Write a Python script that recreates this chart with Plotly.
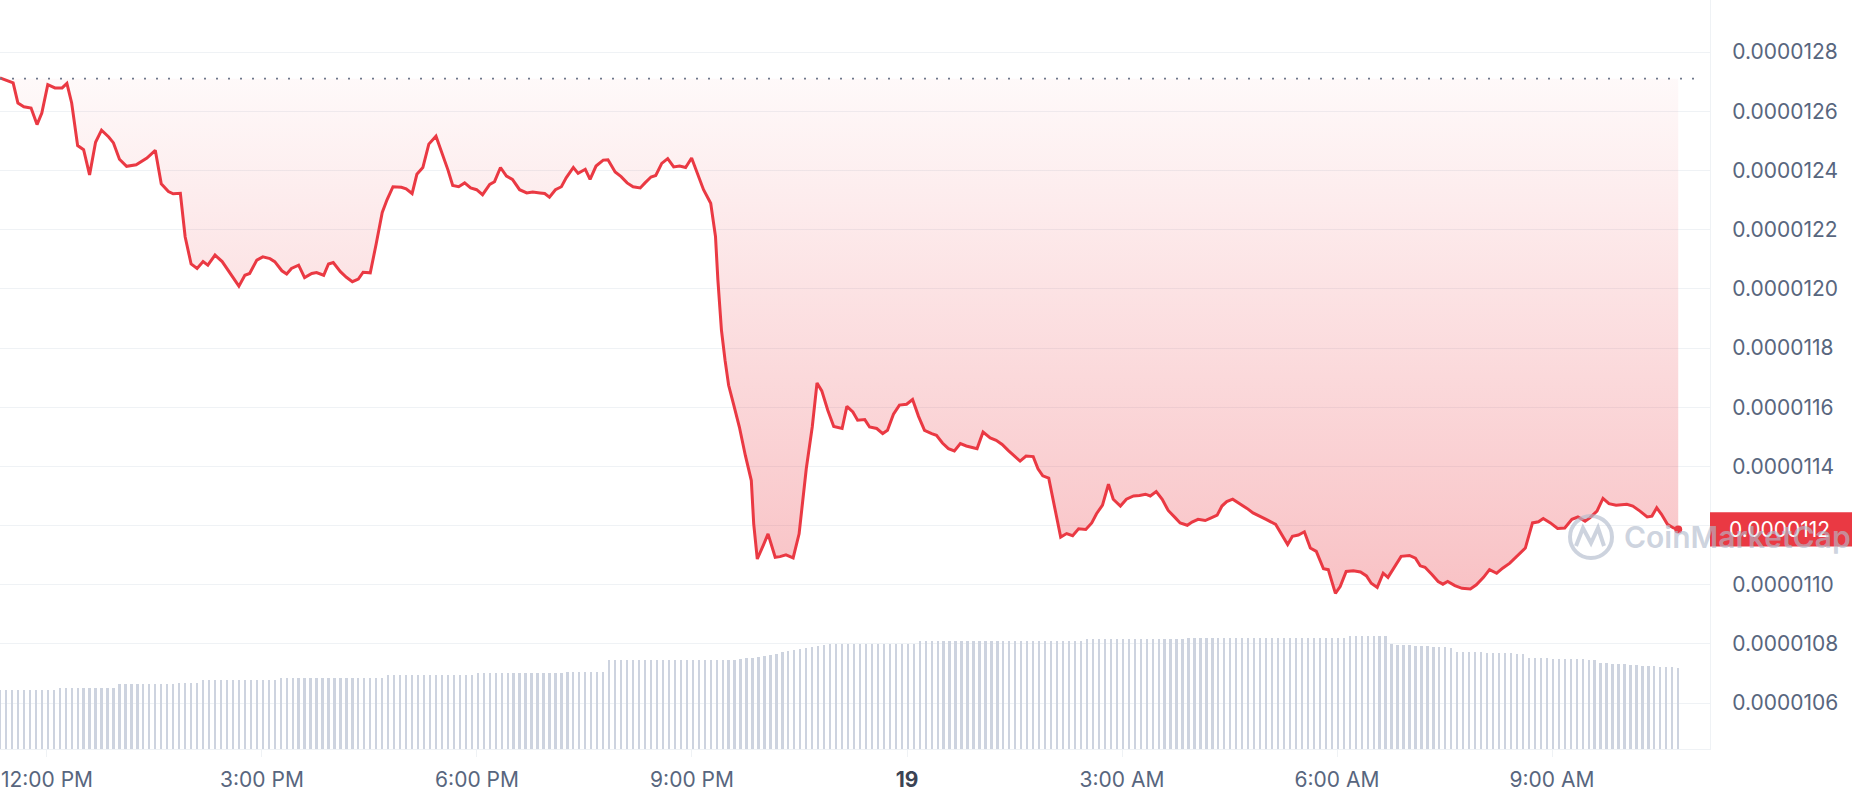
import numpy as np
import pandas as pd
import plotly.graph_objects as go

# ---------------- data ----------------
start_time = pd.Timestamp("2024-06-18 11:20:40")
view_minutes = 1431.6          # visible time span of the x axis

# price samples: minutes after start_time, price in units of 1e-7 USD
price_minutes = [
    0, 11, 15, 20, 26, 31, 35, 40, 46, 52, 56, 60, 65, 70, 75, 80, 85, 91, 95, 100,
    106, 114, 123, 130, 135, 141, 145, 151, 155, 160, 165, 170, 174, 180, 186, 193, 200, 205, 209, 215,
    220, 226, 230, 236, 240, 244, 250, 255, 261, 265, 271, 275, 279, 285,
    290, 295, 300, 304, 310, 315, 320, 324, 329, 336, 340, 345, 349, 354, 359, 365, 370, 375, 379, 384,
    389, 394, 399, 404, 410, 414, 419, 424, 429, 435, 441, 446, 452, 456, 460, 465, 470, 474, 480, 484,
    490, 494, 499, 505, 509, 515, 520, 525, 530, 536, 540, 545, 549, 554, 559, 564, 569, 574, 579, 584,
    589, 595, 599, 601, 604, 607, 610, 614, 619, 624, 629, 631, 634, 639, 643, 649, 653, 658, 664, 669,
    675, 680, 684, 688, 693, 698, 705, 709, 714, 718, 724, 728, 734, 739, 743, 748, 753, 759, 764, 769,
    774, 780, 784, 789, 794, 799, 804, 809, 814, 818, 823, 829, 834, 839, 844, 849, 854, 859, 865, 869,
    873, 878, 883, 888, 893, 898, 903, 909, 914, 918, 923, 928, 932, 938, 943, 949, 954, 959, 963, 968,
    973, 978, 984, 988, 994, 998, 1003, 1009, 1014, 1019, 1023, 1027, 1032, 1038, 1044, 1049, 1055, 1060, 1068, 1073,
    1078, 1082, 1087, 1092, 1097, 1102, 1108, 1112, 1118, 1122, 1127, 1133, 1139, 1144, 1148, 1153,
    1158, 1162, 1168, 1173, 1180, 1185, 1189, 1193, 1199, 1204, 1208, 1212, 1218, 1224, 1231, 1236, 1242, 1247, 1253, 1258,
    1264, 1270, 1277, 1283, 1288, 1292, 1298, 1304, 1310, 1316, 1321, 1327, 1331, 1337, 1342, 1347, 1353, 1362, 1367, 1373,
    1379, 1383, 1387, 1391, 1396, 1401, 1405,
]
price_e7 = [
    127.13, 126.96, 126.28, 126.15, 126.11, 125.55, 125.94, 126.90, 126.79, 126.79, 126.94, 126.28, 124.84, 124.70, 123.85, 124.95, 125.36, 125.13, 124.93, 124.38,
    124.14, 124.19, 124.42, 124.68, 123.55, 123.29, 123.21, 123.23, 121.76, 120.84, 120.69, 120.92, 120.80, 121.14, 120.92, 120.52, 120.09, 120.46, 120.52, 120.97,
    121.08, 121.02, 120.92, 120.61, 120.50, 120.69, 120.80, 120.38, 120.52, 120.55, 120.46, 120.84, 120.89, 120.58,
    120.39, 120.24, 120.33, 120.56, 120.54, 121.53, 122.58, 123.01, 123.45, 123.43, 123.38, 123.22, 123.87, 124.10, 124.89, 125.16, 124.61, 124.02, 123.49, 123.45,
    123.58, 123.41, 123.35, 123.18, 123.53, 123.62, 124.10, 123.81, 123.70, 123.35, 123.24, 123.27, 123.24, 123.22, 123.10, 123.35, 123.45, 123.75, 124.10, 123.90,
    124.04, 123.70, 124.15, 124.35, 124.36, 123.95, 123.79, 123.58, 123.45, 123.41, 123.58, 123.78, 123.83, 124.24, 124.40, 124.12, 124.15, 124.10, 124.42, 123.85,
    123.35, 122.89, 121.77, 120.30, 118.60, 117.59, 116.74, 116.12, 115.33, 114.37, 113.52, 112.06, 110.87, 111.33, 111.72, 110.93, 110.95, 111.01, 110.91, 111.72,
    113.92, 115.33, 116.82, 116.55, 115.90, 115.35, 115.28, 116.03, 115.84, 115.56, 115.58, 115.33, 115.28, 115.11, 115.22, 115.76, 116.07, 116.10, 116.26, 115.69,
    115.22, 115.11, 115.05, 114.79, 114.60, 114.52, 114.77, 114.69, 114.63, 114.60, 115.16, 114.96, 114.88, 114.74, 114.54, 114.37, 114.18, 114.35, 114.33, 113.92,
    113.68, 113.60, 112.66, 111.61, 111.73, 111.66, 111.89, 111.87, 112.09, 112.40, 112.69, 113.40, 112.89, 112.66, 112.89, 113.00, 113.02, 113.06, 113.00, 113.15,
    112.89, 112.51, 112.26, 112.09, 112.01, 112.12, 112.21, 112.17, 112.26, 112.35, 112.66, 112.81, 112.89, 112.74, 112.58, 112.43, 112.32, 112.21, 112.04, 111.70,
    111.36, 111.64, 111.68, 111.79, 111.24, 111.13, 110.54, 110.51, 109.71, 109.94, 110.45, 110.47, 110.43, 110.30, 110.05, 109.91,
    110.39, 110.25, 110.62, 110.96, 110.99, 110.90, 110.64, 110.59, 110.34, 110.11, 110.02, 110.11, 109.97, 109.88, 109.86, 110.00, 110.25, 110.51, 110.39, 110.56,
    110.73, 110.96, 111.24, 112.09, 112.13, 112.24, 112.09, 111.90, 111.92, 112.21, 112.29, 112.15, 112.26, 112.49, 112.92, 112.74, 112.69, 112.72, 112.66, 112.49,
    112.29, 112.32, 112.60, 112.38, 112.04, 111.92, 111.87,
]
open_price_e7 = 127.10          # dotted reference line (24h open)
last_price_text = "0.0000112"

# 24h volume bars, one every 5 minutes (arbitrary units, read as bar heights)
volume_step_min = 5
volume = (
    [29.5] * 10 + [30.7] * 10 + [32.5] * 10 + [33.2] * 4 + [34.7] * 13 + [35.4] * 18
    + [36.9] * 15 + [37.9] * 15 + [38.5] * 7 + [44.4] * 22
    + [45.0, 45.2, 45.5, 46.0, 46.4, 47.0, 47.6, 48.3, 48.9, 49.4, 49.9, 50.4, 50.9, 51.3, 51.7]
    + [52.3] * 15 + [53.7] * 28 + [54.8] * 17 + [55.3] * 27 + [56.2] * 7
    + [52.2, 52.0, 51.9, 51.7, 51.5, 51.4, 51.2, 51.0, 50.9, 50.7, 50.6]
    + [48.6, 48.5, 48.4, 48.3, 48.2, 48.1, 48.0, 47.9, 47.8, 47.7, 47.6, 47.5]
    + [45.5, 45.4, 45.3, 45.2, 45.1, 45.0, 44.9, 44.8, 44.8, 44.7, 44.6, 44.5]
    + [43.0, 42.8, 42.6, 42.4, 42.2, 42.0, 41.8, 41.6, 41.4, 41.2, 41.0, 40.8, 40.7, 40.5]
)

x_tick_times = ["2024-06-18 12:00", "2024-06-18 15:00", "2024-06-18 18:00", "2024-06-18 21:00",
                "2024-06-19 00:00", "2024-06-19 03:00", "2024-06-19 06:00", "2024-06-19 09:00"]
x_tick_text = ["12:00 PM", "3:00 PM", "6:00 PM", "9:00 PM",
               "<b><span style='color:#3b4354'>19</span></b>", "3:00 AM", "6:00 AM", "9:00 AM"]
y_ticks_e7 = [106, 108, 110, 112, 114, 116, 118, 120, 122, 124, 126, 128]
y_range_e7 = [104.45, 129.76]

# ---------------- derived ----------------
E7 = 1e-7
price_t = start_time + pd.to_timedelta(price_minutes, unit="m")
price = np.array(price_e7) * E7
vol_t = start_time + pd.to_timedelta(np.arange(len(volume)) * volume_step_min, unit="m")
view_end = start_time + pd.Timedelta(minutes=view_minutes)

RED = "#ea3943"
GREY_TXT = "#58667e"
GRID = "#eff2f5"
FONT = "Inter, Roboto, sans-serif"
TICK_SIZE = 21

fig = go.Figure()

# volume bars on a hidden secondary axis
fig.add_trace(go.Bar(
    x=vol_t, y=volume, yaxis="y2",
    marker=dict(color="#cdd3df", line=dict(width=0)),
    width=volume_step_min * 60 * 1000 * 0.38,
    hoverinfo="skip", showlegend=False,
))

# invisible baseline at the open price (fill target)
fig.add_trace(go.Scatter(
    x=[price_t[0], price_t[-1]], y=[open_price_e7 * E7] * 2,
    mode="lines", line=dict(width=0, color="rgba(0,0,0,0)"),
    hoverinfo="skip", showlegend=False,
))

# price line with gradient fill up to the baseline
fig.add_trace(go.Scatter(
    x=price_t, y=price, mode="lines",
    line=dict(color=RED, width=3),
    fill="tonexty",
    fillgradient=dict(
        type="vertical",
        colorscale=[[0, "rgba(234,57,67,0.31)"], [1, "rgba(234,57,67,0.03)"]],
        start=min(price_e7) * E7, stop=open_price_e7 * E7,
    ),
    hoverinfo="skip", showlegend=False,
))

# end-point dot
fig.add_trace(go.Scatter(
    x=[price_t[-1]], y=[price[-1]], mode="markers",
    marker=dict(color=RED, size=8),
    hoverinfo="skip", showlegend=False,
))

shapes = [
    # dotted open-price line
    dict(type="line", xref="paper", yref="y", x0=0, x1=0.995,
         y0=open_price_e7 * E7, y1=open_price_e7 * E7,
         line=dict(color="#6f788b", width=1.8, dash="2px,10px"), layer="above"),
    # red current-price tag
    dict(type="rect", xref="paper", yref="y", x0=1.0, x1=1.0 + 142 / 1710,
         y0=price[-1] - 0.58 * E7, y1=price[-1] + 0.58 * E7,
         fillcolor=RED, line=dict(width=0), layer="above"),
    # watermark logo ring
    dict(type="circle", xref="paper", yref="paper",
         x0=(1591 - 21) / 1710, x1=(1591 + 21) / 1710,
         y0=1 - (537 + 21) / 749, y1=1 - (537 - 21) / 749,
         line=dict(color="rgba(178,187,204,0.65)", width=4), layer="above"),
    dict(type="path", xref="paper", yref="paper",
         path="M {a},{b} L {c},{d} L {e},{f} L {g},{h} L {i},{j}".format(
             a=1576 / 1710, b=1 - 546 / 749, c=1583 / 1710, d=1 - 528 / 749,
             e=1591 / 1710, f=1 - 543 / 749, g=1598 / 1710, h=1 - 528 / 749,
             i=1604 / 1710, j=1 - 546 / 749),
         line=dict(color="rgba(178,187,204,0.65)", width=4), layer="above"),
]

annotations = [
    dict(xref="paper", yref="y", x=1.0, y=price[-1], xanchor="left", yanchor="middle",
         xshift=17, text=last_price_text, showarrow=False,
         font=dict(family=FONT, size=TICK_SIZE, color="white")),
    dict(xref="paper", yref="paper", x=1622 / 1710, y=1 - 537 / 749, xanchor="left", yanchor="middle",
         text="CoinMarketCap", showarrow=False,
         font=dict(family=FONT, size=30, color="rgba(178,187,204,0.65)", weight=600)),
]

fig.update_layout(
    width=1858, height=800,
    margin=dict(l=0, r=148, t=0, b=51),
    paper_bgcolor="white", plot_bgcolor="white",
    font=dict(family=FONT, color=GREY_TXT, size=TICK_SIZE),
    showlegend=False, bargap=0,
    shapes=shapes, annotations=annotations,
    xaxis=dict(
        type="date", range=[start_time, view_end],
        tickmode="array", tickvals=x_tick_times, ticktext=x_tick_text,
        showgrid=False, zeroline=False,
        showline=True, linecolor=GRID, linewidth=1,
        ticks="outside", ticklen=7, tickcolor=GRID,
        ticklabelstandoff=5,
        tickfont=dict(family=FONT, size=TICK_SIZE, color=GREY_TXT),
    ),
    yaxis=dict(
        side="right", range=[y_range_e7[0] * E7, y_range_e7[1] * E7],
        tickmode="array", tickvals=[v * E7 for v in y_ticks_e7],
        ticktext=[f"{v * E7:.7f}" for v in y_ticks_e7],
        showgrid=True, gridcolor=GRID, gridwidth=1, zeroline=False,
        showline=True, linecolor=GRID, linewidth=1, mirror=False,
        ticks="", ticklabelstandoff=17,
        tickfont=dict(family=FONT, size=TICK_SIZE, color=GREY_TXT),
    ),
    yaxis2=dict(overlaying="y", range=[0, 374], visible=False, fixedrange=True),
)

fig.write_html("out.html", config={"displayModeBar": False},
               post_script="document.body.style.margin='0';document.body.style.overflow='hidden';")
